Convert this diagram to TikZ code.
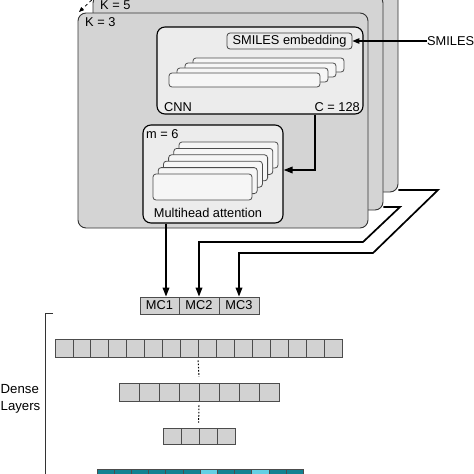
\documentclass[tikz,border=0pt]{standalone}
\usepackage{fontspec}
\setmainfont{Liberation Sans}
\usetikzlibrary{arrows.meta,calc}
\definecolor{panelgray}{RGB}{212,212,212}
\definecolor{boxgray}{RGB}{236,236,236}
\definecolor{mapgray}{RGB}{246,246,246}
\definecolor{cellgray}{RGB}{210,210,210}
\definecolor{tealdark}{RGB}{18,130,146}
\definecolor{teallight}{RGB}{100,208,228}
\begin{document}
\begin{tikzpicture}[x=1pt,y=-1pt,
  font=\fontsize{12.8}{14}\selectfont,
  panel/.style={draw=black!80, fill=panelgray, rounded corners=8pt, line width=0.9pt,
    minimum width=290pt, minimum height=215pt, inner sep=0pt},
  module/.style={draw=black, fill=boxgray, rounded corners=8pt, line width=1.1pt, inner sep=0pt},
  fmap/.style={draw=black!70, fill=mapgray, rounded corners=3pt, line width=0.8pt, inner sep=0pt},
  embbox/.style={draw=black!75, fill=boxgray, rounded corners=3pt, line width=0.8pt, inner sep=0pt,
    minimum width=125pt, minimum height=16pt},
  mcbox/.style={draw=black!70, fill=cellgray, line width=0.8pt, inner sep=0pt,
    minimum height=17pt},
  cell/.style={draw=black!70, fill=cellgray, line width=0.8pt, inner sep=0pt},
  conn/.style={line width=1.7pt, -{Triangle[length=9pt,width=6.5pt]}},
  thinconn/.style={line width=1.1pt, -{Triangle[length=7pt,width=5.5pt]}},
  dotline/.style={line width=1pt, dash pattern=on 1.6pt off 1.6pt},
  lbl/.style={inner sep=0pt}
]
\useasboundingbox (0,0) rectangle (474,474);

% stacked panels
\node[panel] (p3) at (253,84.5) {};
\node[panel] (p2) at (238,102.5) {};
\node[panel] (p1) at (223,120.5) {};
\node[lbl, anchor=west] (k5) at (100,5) {K = 5};
\node[lbl, anchor=west] (k3) at (85,22.5) {K = 3};
\coordinate (dA) at (96,-4);
\coordinate (dB) at (79,12);
\draw[line width=0.8pt, dashed, -{Triangle[length=5pt,width=4pt]}] (dA) -- (dB);

% CNN module
\node[module, minimum width=206pt, minimum height=87pt] (cnn) at (260,70.5) {};
\node[embbox] (emb) at (289.5,41) {SMILES embedding};
\foreach \i in {3,2,1,0}
  \node[fmap, minimum width=151pt, minimum height=14pt] (fm\i) at (244.5+8*\i,80-5*\i) {};
\node[lbl, anchor=west] (cnnl) at (164,107) {CNN};
\node[lbl, anchor=east] (cl) at (360,107) {C = 128};

% input
\node[lbl, anchor=west] (smiles) at (427,41) {SMILES};
\draw[thinconn] (smiles.west) -- (emb.east);

% multihead attention module
\node[module, minimum width=140pt, minimum height=98pt] (mha) at (213,174) {};
\foreach \i in {5,4,3,2,1,0}
  \node[fmap, minimum width=99pt, minimum height=26pt] (hd\i) at (202.5+5.2*\i,187-6.4*\i) {};
\node[lbl, anchor=west] (ml) at (146,134) {m = 6};
\node[lbl] (mhal) at (208,213) {Multihead attention};

% MC outputs
\node[mcbox, minimum width=39pt] (mc1) at (159.5,305.5) {MC1};
\node[mcbox, minimum width=40pt] (mc2) at (199,305.5) {MC2};
\node[mcbox, minimum width=40pt] (mc3) at (239,305.5) {MC3};

% connectors
\coordinate (c1) at (315,170);
\draw[conn] (cnn.south -| c1) -- (c1) -- (mha.east |- c1);
\coordinate (a1) at (166,0);
\draw[conn] (mha.south -| a1) -- (mc1.north -| a1);
\coordinate (b1) at (400,207);
\coordinate (b2) at (363,242);
\draw[conn] (p2.east |- b1) -- (b1) -- (b2) -- (mc2.north |- b2) -- (mc2.north);
\coordinate (e1) at (438,190);
\coordinate (e2) at (373,253);
\draw[conn] (p3.east |- e1) -- (e1) -- (e2) -- (mc3.north |- e2) -- (mc3.north);

% dense layers bracket
\coordinate (br1) at (53,313);
\coordinate (br2) at (45,313);
\coordinate (br3) at (45,480);
\draw[line width=0.9pt, black!80] (br1) -- (br2) -- (br3);
\node[lbl, anchor=west, align=left, font=\fontsize{13.2}{16.5}\selectfont] (dense) at (0.5,399) {Dense\\Layers};

% dense rows
\foreach \i in {0,...,15}
  \node[cell, minimum width=17.94pt, minimum height=18pt] (ra\i) at (55+17.94*\i+8.97,348) {};
\foreach \i in {0,...,7}
  \node[cell, minimum width=20.1pt, minimum height=18pt] (rb\i) at (119+20.1*\i+10.05,392) {};
\foreach \i in {0,...,3}
  \node[cell, minimum width=18pt, minimum height=16pt] (rc\i) at (163+18*\i+9,436) {};
\foreach \i in {0,...,11}{
  \ifnum\i=6 \def\cc{teallight}\else\ifnum\i=9 \def\cc{teallight}\else\def\cc{tealdark}\fi\fi
  \node[cell, fill=\cc, minimum width=17.2pt, minimum height=18pt] (rd\i) at (97+17.2*\i+8.6,478) {};
}
\draw[dotline] ([yshift=-3pt]ra8.south west) -- ([yshift=6pt]rb4.north west);
\draw[dotline] ([yshift=-4pt]rb4.south west) -- ([yshift=5pt]rc2.north west);
\end{tikzpicture}
\end{document}
